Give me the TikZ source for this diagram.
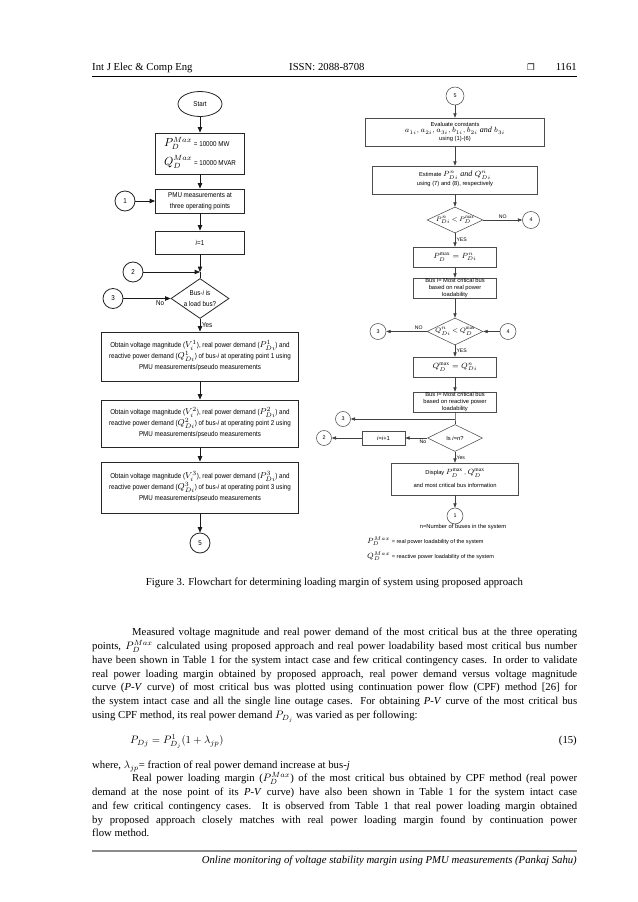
\documentclass[tikz,border=0pt]{standalone}
\usepackage{fontspec}
\setmainfont{Liberation Serif}
\setsansfont{Liberation Sans}
\newfontfamily\lsf[FakeStretch=0.88]{Liberation Sans}
\newfontfamily\dejavu{DejaVu Sans}
\usetikzlibrary{shapes.geometric,arrows.meta}
\newcommand\PX{0.9328pt}
\newcommand\lm[1]{\smash{\fontsize{8.5}{8.5}\selectfont$#1$}}
\newcommand\lmb[1]{\smash{\fontsize{10.5}{10.5}\selectfont$#1$}}
\newcommand\smm[1]{{\fontsize{7.5}{7.5}\selectfont$#1$}}
\newcommand\ssm[1]{\smash{\fontsize{7.5}{7.5}\selectfont$#1$}}
\newcommand\bmath[1]{\smash{$#1$}}
\tikzset{
 lb/.style={draw=black!85, line width=0.75pt, inner sep=0pt, align=center, font=\lsf\fontsize{6.6}{10.3}\selectfont},
 rb/.style={draw=black!70, line width=0.5pt, inner sep=0pt, align=center, font=\sffamily\fontsize{5.4}{6.4}\selectfont},
 lcirc/.style={circle, draw=black!85, line width=0.75pt, inner sep=0pt, font=\lsf\fontsize{6.6}{7}\selectfont},
 rcirc/.style={circle, draw=black!70, line width=0.5pt, inner sep=0pt, font=\sffamily\fontsize{5}{6}\selectfont},
 ldia/.style={diamond, draw=black!85, line width=0.75pt, inner sep=0pt, align=center, font=\lsf\fontsize{6.6}{10}\selectfont},
 rdia/.style={diamond, draw=black!70, line width=0.5pt, inner sep=0pt, align=center, font=\sffamily\fontsize{5.4}{6.4}\selectfont},
 larr/.style={draw=black!90, line width=0.75pt, -{Triangle[length=5pt,width=4pt]}},
 rarr/.style={draw=black!75, line width=0.5pt, -{Triangle[length=4pt,width=3pt]}},
 lline/.style={draw=black!90, line width=0.75pt},
 rline/.style={draw=black!75, line width=0.5pt},
 llab/.style={font=\lsf\fontsize{6.6}{7}\selectfont, inner sep=1.5pt},
 rlab/.style={font=\sffamily\fontsize{4.8}{5.5}\selectfont, inner sep=1.2pt},
 body/.style={anchor=base west, inner sep=0pt, font=\fontsize{10}{12}\selectfont},
 bodye/.style={anchor=base east, inner sep=0pt, font=\fontsize{10}{12}\selectfont},
}
\begin{document}
\begin{tikzpicture}[x=\PX,y=-\PX]
\useasboundingbox (0,0) rectangle (638,902);
\fill[white] (0,0) rectangle (638,902);

% ---------- header ----------
\node[body] (hl) at (92,71) {Int J Elec \& Comp Eng};
\node[body] (hm) at (289,71) {ISSN: 2088-8708};
\node[anchor=base west, inner sep=0pt, font=\dejavu\fontsize{8}{8}\selectfont] (hs) at (527,71) {❐};
\node[bodye] (hp) at (577,71) {1161};
\draw[line width=0.6pt] (92,76) -- (577,76);

% ---------- left flowchart ----------
\node[lb, ellipse, minimum width=44*\PX, minimum height=25*\PX] (start) at (200,104) {Start};
\node[lb, align=left, minimum width=89*\PX, minimum height=41*\PX] (pd) at (200,153.5)
  {\lmb{P_D^{Max}} = 10000 MW\\[7pt]\lmb{Q_D^{Max}} = 10000 MVAR};
\node[lb, minimum width=89*\PX, minimum height=24*\PX] (pmu) at (200,201) {PMU measurements at\\three operating points};
\node[lb, minimum width=89*\PX, minimum height=23*\PX] (ione) at (200,242.5) {\textit{i}=1};
\coordinate (j2) at (200,272);
\node[ldia, aspect=1.45, minimum width=58*\PX, minimum height=40*\PX] (d1) at (200,298.5) {Bus-\textit{i} is\\a load bus?};
\node[lb, minimum width=197*\PX, minimum height=49*\PX] (box1) at (200,356.5)
  {Obtain voltage magnitude (\lm{V_i^1}), real power demand (\lm{P_{Di}^1}) and\\reactive power demand (\lm{Q_{Di}^1}) of bus-\textit{i} at operating point 1 using\\PMU measurements/pseudo measurements};
\node[lb, minimum width=197*\PX, minimum height=47*\PX] (box2) at (200,423.5)
  {Obtain voltage magnitude (\lm{V_i^2}), real power demand (\lm{P_{Di}^2}) and\\reactive power demand (\lm{Q_{Di}^2}) of bus-\textit{i} at operating point 2 using\\PMU measurements/pseudo measurements};
\node[lb, minimum width=197*\PX, minimum height=51*\PX] (box3) at (200,487.5)
  {Obtain voltage magnitude (\lm{V_i^3}), real power demand (\lm{P_{Di}^3}) and\\reactive power demand (\lm{Q_{Di}^3}) of bus-\textit{i} at operating point 3 using\\PMU measurements/pseudo measurements};
\node[lcirc, minimum size=20*\PX] (c5) at (200,543) {5};
\node[lcirc, minimum size=20*\PX] (c1) at (125,201) {1};
\node[lcirc, minimum size=20*\PX] (c2) at (133,272) {2};
\node[lcirc, minimum size=20*\PX] (c3) at (113,298.5) {3};

\draw[larr] (start) -- (pd);
\draw[larr] (pd) -- (pmu);
\draw[larr] (c1) -- (pmu);
\draw[larr] (pmu) -- (ione);
\draw[larr] (ione) -- (j2);
\draw[larr] (c2) -- (j2);
\draw[lline] (j2) -- (d1.north);
\draw[larr] (c3) -- (d1.west) node[llab, pos=0.78, below] {No};
\draw[larr] (d1) -- (box1) node[llab, midway, right] {Yes};
\draw[larr] (box1) -- (box2);
\draw[larr] (box2) -- (box3);
\draw[larr] (box3) -- (c5);

% ---------- right flowchart ----------
\node[rcirc, minimum size=18*\PX] (r5) at (455,96) {5};
\node[rb, minimum width=179*\PX, minimum height=28*\PX] (re) at (455,132)
  {Evaluate constants\\\ssm{a_{1i}, a_{2i}, a_{3i}, b_{1i}, b_{2i}\ \mathit{and}\ b_{3i}}\\[1pt]using (1)-(6)};
\node[rb, minimum width=165*\PX, minimum height=28*\PX] (rf) at (455,180)
  {Estimate \ssm{P^n_{Di}\ \mathit{and}\ Q^n_{Di}}\\[2pt]using (7) and (8), respectively};
\node[rdia, aspect=2.15, minimum width=56*\PX, minimum height=26*\PX] (d2) at (455,220)
  {{\fontsize{6.5}{6.5}\selectfont$P^n_{Di}\,{<}\,P^{\mathrm{max}}_D$}};
\node[rcirc, minimum size=17*\PX] (r4a) at (531,220) {4};
\node[rb, minimum width=83*\PX, minimum height=20*\PX] (rg) at (455,257) {\smm{P_D^{\mathrm{max}} = P_{Di}^n}};
\node[rb, minimum width=83*\PX, minimum height=20*\PX] (rh) at (455,288) {Bus \textit{i}= Most critical bus\\based on real power\\loadability};
\node[rdia, aspect=2.07, minimum width=56*\PX, minimum height=27*\PX] (d3) at (455,331.5)
  {{\fontsize{6.5}{6.5}\selectfont$Q^n_{Di}\,{<}\,Q^{\mathrm{max}}_D$}};
\node[rcirc, minimum size=16*\PX] (r3a) at (378,331.5) {3};
\node[rcirc, minimum size=16*\PX] (r4b) at (508,331.5) {4};
\node[rb, minimum width=83*\PX, minimum height=20*\PX] (ri) at (455,367) {\smm{Q_D^{\mathrm{max}} = Q_{Di}^n}};
\node[rb, minimum width=83*\PX, minimum height=20*\PX] (rj) at (455,402) {Bus \textit{i}= Most critical bus\\based on reactive power\\loadability};
\coordinate (j3) at (455,419);
\node[rcirc, minimum size=15*\PX] (r3b) at (343,419) {3};
\node[rdia, aspect=2.04, minimum width=55*\PX, minimum height=27*\PX] (d4) at (455,438) {Is \textit{i}=\textit{n}?};
\node[rb, minimum width=43*\PX, minimum height=14*\PX] (rk) at (383.5,438) {\textit{i}=\textit{i}+1};
\node[rcirc, minimum size=15*\PX] (r2b) at (324,438) {2};
\node[rb, minimum width=127*\PX, minimum height=32*\PX] (rl) at (455,479)
  {Display \ssm{P_D^{\mathrm{max}}} , \ssm{Q_D^{\mathrm{max}}}\\[5pt]and most critical bus information};
\node[rcirc, minimum size=16*\PX] (r1) at (455,516) {1};

\draw[rarr] (r5) -- (re);
\draw[rarr] (re) -- (rf);
\draw[rarr] (rf) -- (d2);
\draw[rarr] (d2) -- (r4a) node[rlab, midway, above] {NO};
\draw[rarr] (d2) -- (rg) node[rlab, midway, right] {YES};
\draw[rarr] (rg) -- (rh);
\draw[rarr] (rh) -- (d3);
\draw[rarr] (d3) -- (r3a) node[rlab, pos=0.2, above] {NO};
\draw[rarr] (r4b) -- (d3);
\draw[rarr] (d3) -- (ri) node[rlab, midway, right] {YES};
\draw[rarr] (ri) -- (rj);
\draw[rline] (rj) -- (j3) -- (d4.north);
\draw[rarr] (j3) -- (r3b);
\draw[rarr] (d4) -- (rk) node[rlab, pos=0.2, below] {No};
\draw[rarr] (rk) -- (r2b);
\draw[rarr] (d4) -- (rl) node[rlab, midway, right] {Yes};
\draw[rarr] (rl) -- (r1);

\node[rlab, font=\sffamily\fontsize{5.4}{6}\selectfont] (nb) at (463,527) {n=Number of buses in the system};
\node[anchor=west, inner sep=0pt, font=\sffamily\fontsize{5.2}{6}\selectfont] (lg1) at (367,542) {\ssm{P_D^{Max}} = real power loadability of the system};
\node[anchor=west, inner sep=0pt, font=\sffamily\fontsize{5.2}{6}\selectfont] (lg2) at (367,557) {\ssm{Q_D^{Max}} = reactive power loadability of the system};

% ---------- caption ----------
\node[inner sep=0pt, font=\fontsize{10}{12}\selectfont] (cap) at (334.5,583) {Figure 3. Flowchart for determining loading margin of system using proposed approach};

% ---------- body text ----------
\node[body] (b1) at (132,635.5) {\makebox[415.1pt][s]{Measured voltage magnitude and real power demand of the most critical bus at the three operating}};
\node[body] (b2) at (92,649.5) {\makebox[452.4pt][s]{points, \bmath{P_D^{Max}} calculated using proposed approach and real power loadability based most critical bus number}};
\node[body] (b3) at (92,663.5) {\makebox[452.4pt][s]{have been shown in Table 1 for the system intact case and few critical contingency cases. In order to validate}};
\node[body] (b4) at (92,677) {\makebox[452.4pt][s]{real power loading margin obtained by proposed approach, real power demand versus voltage magnitude}};
\node[body] (b5) at (92,690.5) {\makebox[452.4pt][s]{curve (\textit{P-V} curve) of most critical bus was plotted using continuation power flow (CPF) method [26] for}};
\node[body] (b6) at (92,704.5) {\makebox[452.4pt][s]{the system intact case and all the single line outage cases. For obtaining \textit{P-V} curve of the most critical bus}};
\node[body] (b7) at (92,718.5) {using CPF method, its real power demand \bmath{P_{D_j}} was varied as per following:};
\node[body] (eq) at (130,743.5) {$P_{Dj} = P^1_{D_j}(1+\lambda_{jp})$};
\node[bodye] (eqn) at (577,743.5) {(15)};
\node[body] (b8) at (92,768.5) {where, \bmath{\lambda_{jp}}= fraction of real power demand increase at bus-\textit{j}};
\node[body] (b9) at (132,781.5) {\makebox[415.1pt][s]{Real power loading margin (\bmath{P_D^{Max}}) of the most critical bus obtained by CPF method (real power}};
\node[body] (b10) at (92,795.5) {\makebox[452.4pt][s]{demand at the nose point of its \textit{P-V} curve) have also been shown in Table 1 for the system intact case}};
\node[body] (b11) at (92,809.5) {\makebox[452.4pt][s]{and few critical contingency cases. It is observed from Table 1 that real power loading margin obtained}};
\node[body] (b12) at (92,823) {\makebox[452.4pt][s]{by proposed approach closely matches with real power loading margin found by continuation power}};
\node[body] (b13) at (92,836.5) {flow method.};

% ---------- footer ----------
\draw[line width=1.3pt, black!45] (92,851) -- (577,851);
\node[bodye, font=\itshape\fontsize{10}{12}\selectfont] (ft) at (577,863) {Online monitoring of voltage stability margin using PMU measurements (Pankaj Sahu)};
\end{tikzpicture}
\end{document}
